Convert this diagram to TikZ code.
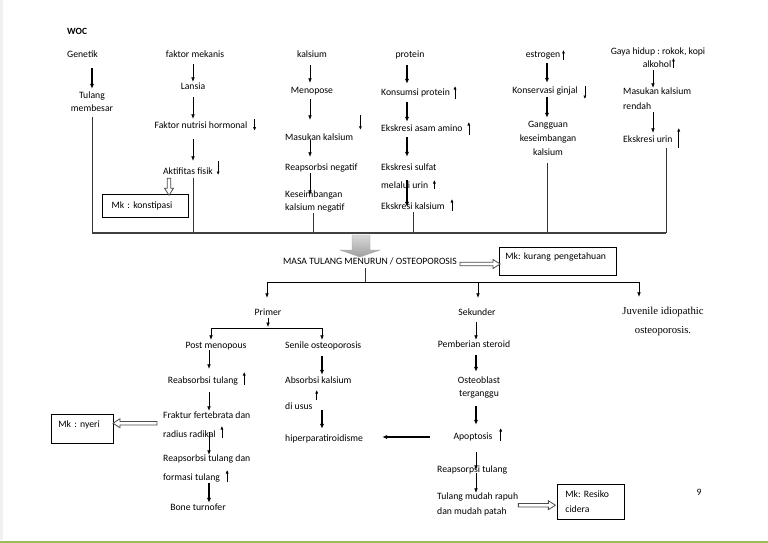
\documentclass[tikz,border=0pt]{standalone}
\usepackage{fontspec}
\setmainfont{Carlito}
\newfontfamily\serifjuv{Liberation Serif}
\usetikzlibrary{arrows.meta,calc}
\definecolor{slidegreen}{RGB}{155,187,89}
% hollow block arrows: start coordinate, length
\newcommand\hollowR[2]{\draw[hol] (#1) ++(0,-1.75) -- ++(#2-7,0) -- ++(0,-2.75) -- ++(7,4.5) -- ++(-7,4.5) -- ++(0,-2.75) -- ++(-#2+7,0) -- cycle;}
\newcommand\hollowL[2]{\draw[hol] (#1) ++(0,-1.75) -- ++(-#2+7,0) -- ++(0,-2.75) -- ++(-7,4.5) -- ++(7,4.5) -- ++(0,-2.75) -- ++(#2-7,0) -- cycle;}
\newcommand\hollowD[2]{\draw[hol] (#1) ++(-1.75,0) -- ++(0,#2-7) -- ++(-2.75,0) -- ++(4.5,7) -- ++(4.5,-7) -- ++(-2.75,0) -- ++(0,-#2+7) -- cycle;}
\begin{document}
\frenchspacing
\begin{tikzpicture}[x=1pt,y=-1pt,
 txt/.style={font=\fontsize{9.7}{11.6}\selectfont, inner sep=0pt, text height=7pt, text depth=2pt},
 lt/.style={txt, anchor=west},
 arr/.style={line width=0.6pt, -{Latex[length=4.5pt,width=3.6pt]}},
 arrk/.style={line width=1.1pt, -{Latex[length=5pt,width=4.2pt]}},
 ind/.style={line width=0.6pt, -{Latex[length=3.5pt,width=3pt]}},
 wire/.style={line width=0.7pt, black!80},
 bus/.style={line width=1.2pt, black!75},
 hol/.style={line width=0.8pt, draw=black!70, fill=white, line join=miter},
 box/.style={draw, line width=0.8pt, font=\frenchspacing\fontsize{9.7}{11.6}\selectfont, align=left, inner ysep=0pt, anchor=north west}
]
\useasboundingbox (0,0) rectangle (768,543);
\fill[white] (0,0) rectangle (768,543);
\fill[black!6] (0,0) rectangle (3,540);
\draw[line width=2pt, slidegreen] (0,541.5) -- (768,541.5);

% column coordinates
\coordinate (c3) at (310,0); \coordinate (c4) at (407,0); \coordinate (c5) at (547,0);
\coordinate (c6) at (653,0); \coordinate (l3) at (313,0); \coordinate (l4) at (413,0);
\coordinate (l6) at (666,0); \coordinate (m) at (365,0);
\coordinate (p1) at (209,0); \coordinate (p2) at (322,0); \coordinate (s1) at (476,0);
\coordinate (busL) at (92,233); \coordinate (busR) at (666,233);
\coordinate (b2L) at (267,282); \coordinate (b2S) at (478,282); \coordinate (b2R) at (639,282);
\coordinate (jL) at (211,328); \coordinate (jR) at (322,328);

\node[lt, font=\bfseries\fontsize{9.5}{11}\selectfont] (woc) at (67,32) {WOC};

% column 1
\node[lt] (gen) at (67,55) {Genetik};
\node[txt] (tul1) at (92,96) {Tulang};
\node[txt] (tul2) at (92,109) {membesar};
\draw[arrk, shorten <=8.5pt, shorten >=2.5pt] (tul1.north |- gen.south) -- (tul1.north);
\draw[wire, shorten <=3.5pt] (tul2.south) -- (tul2.south |- busL);

% column 2
\node[txt] (fm) at (195,55) {faktor mekanis};
\node[txt] (lan) at (193,87) {Lansia};
\draw[arr, shorten <=4.5pt, shorten >=0.5pt] (lan.north |- fm.south) -- (lan.north);
\node[txt] (fnh) at (201,126) {Faktor nutrisi hormonal};
\draw[arr, shorten <=5.5pt, shorten >=2.5pt] (lan.south) -- (lan.south |- fnh.north);
\draw[ind] ([xshift=7pt,yshift=2pt]fnh.north east) -- ([xshift=7pt]fnh.south east);
\node[txt] (af) at (188,172) {Aktifitas fisik};
\draw[arr, shorten <=8.5pt, shorten >=6.5pt] (lan.south |- fnh.south) -- (lan.south |- af.north);
\draw[ind] ([xshift=5pt,yshift=11pt]af.east) -- ([xshift=5pt,yshift=-3pt]af.east);
\node[box, line width=1pt, text width=68pt, inner xsep=9pt, text height=13.5pt, text depth=9.5pt] (kon) at (102,194) {Mk : konstipasi};
\coordinate (hx) at ([xshift=-19pt,yshift=-1.5pt]af.south);
\hollowD{hx}{17}
\draw[wire, shorten <=1pt] (lan.south |- af.south) -- (lan.south |- busL);

% column 3
\node[txt] (kal) at (312,55) {kalsium};
\node[txt] (men) at (312,91) {Menopose};
\draw[arr, shorten <=5.5pt, shorten >=3.5pt] (c3 |- kal.south) -- (c3 |- men.north);
\node[lt] (mk) at (285,138) {Masukan kalsium};
\draw[arr, shorten <=3.5pt, shorten >=13.5pt] (c3 |- men.south) -- (c3 |- mk.north);
\draw[ind] ([xshift=7pt,yshift=18.5pt]mk.north east) -- ([xshift=7pt,yshift=3.5pt]mk.north east);
\node[lt] (rn) at (285,168) {Reapsorbsi negatif};
\draw[arr, shorten <=-2.5pt, shorten >=6.5pt] (c3 |- mk.south) -- (c3 |- rn.north);
\node[lt] (kes1) at (285,195) {Keseimbangan};
\node[lt] (kes2) at (285,208) {kalsium negatif};
\draw[arr, shorten <=0.5pt, shorten >=-4.5pt] (c3 |- rn.south) -- (c3 |- kes1.north);
\draw[wire, shorten <=0.5pt] (l3 |- kes2.south) -- (l3 |- busL);

% column 4
\node[txt] (pro) at (410,55) {protein};
\node[lt] (kp) at (381,93) {Konsumsi protein};
\draw[arrk, shorten <=5.5pt, shorten >=4.5pt] (c4 |- pro.south) -- (c4 |- kp.north);
\draw[ind] ([xshift=5pt,yshift=-6pt]kp.east) -- ([xshift=5pt,yshift=7pt]kp.east);
\node[lt] (eaa) at (381,129) {Ekskresi asam amino};
\draw[arrk, shorten <=4.5pt, shorten >=2.5pt] (c4 |- kp.south) -- (c4 |- eaa.north);
\draw[ind] ([xshift=6pt,yshift=-6pt]eaa.east) -- ([xshift=6pt,yshift=7pt]eaa.east);
\node[lt] (es1) at (381,168) {Ekskresi sulfat};
\node[lt] (es2) at (381,186) {melalui urin};
\draw[arrk, shorten <=3.5pt, shorten >=6.5pt] (c4 |- eaa.south) -- (c4 |- es1.north);
\draw[ind] ([xshift=6pt,yshift=-3pt]es2.east) -- ([xshift=6pt,yshift=6pt]es2.east);
\node[lt] (ek) at (381,207) {Ekskresi kalsium};
\draw[arrk, shorten <=7.5pt, shorten >=-4.5pt] (c4 |- es1.south) -- (c4 |- ek.north);
\draw[ind] ([xshift=7pt,yshift=-4pt]ek.east) -- ([xshift=7pt,yshift=8pt]ek.east);
\draw[wire, shorten <=0.5pt] (l4 |- ek.south) -- (l4 |- busL);

% column 5
\node[txt] (est) at (543,55) {estrogen};
\draw[ind] ([xshift=3pt,yshift=-5pt]est.east) -- ([xshift=3pt,yshift=5pt]est.east);
\node[txt] (kg) at (545,91) {Konservasi ginjal};
\draw[arrk, shorten <=3.5pt, shorten >=3.5pt] (c5 |- est.south) -- (c5 |- kg.north);
\draw[ind] ([xshift=7pt,yshift=5pt]kg.east) -- ([xshift=7pt,yshift=-8pt]kg.east);
\node[txt] (gg1) at (548,125) {Gangguan};
\node[txt] (gg2) at (548,139) {keseimbangan};
\node[txt] (gg3) at (548,153) {kalsium};
\draw[arrk, shorten <=1.5pt, shorten >=2.5pt] (c5 |- kg.south) -- (c5 |- gg1.north);
\draw[wire, shorten <=5.5pt] (c5 |- gg3.south) -- (c5 |- busL);

% column 6
\node[txt] (gh1) at (658,52) {Gaya hidup : rokok, kopi};
\node[txt] (gh2) at (657,65) {alkohol};
\draw[ind] ([xshift=2pt,yshift=-3pt]gh2.east) -- ([xshift=2pt,yshift=7pt]gh2.east);
\node[lt] (mr1) at (623,92) {Masukan kalsium};
\node[lt] (mr2) at (623,107) {rendah};
\draw[arr, shorten <=0.5pt, shorten >=-0.5pt] (c6 |- gh2.south) -- (c6 |- mr1.north);
\node[lt] (eu) at (623,140) {Ekskresi urin};
\draw[arr, shorten <=0.5pt, shorten >=2.5pt] (c6 |- mr2.south) -- (c6 |- eu.north);
\draw[ind] ([xshift=6pt,yshift=-8pt]eu.east) -- ([xshift=6pt,yshift=12pt]eu.east);
\draw[wire, shorten <=3.5pt] (l6 |- eu.south) -- (l6 |- busR);

% top bus
\draw[bus] (busL) -- (busR);

% block arrow
\shade[top color=gray!30, bottom color=gray!75, draw=gray!70, line width=0.4pt]
 (352,235) -- (370,235) -- (370,250) -- (380,250) -- (360,257) -- (340,250) -- (352,250) -- cycle;

\node[txt] (masa) at (370,262) {MASA TULANG MENURUN / OSTEOPOROSIS};
\node[box, text width=105pt, inner xsep=6pt, text height=12.5pt, text depth=15.5pt] (kur) at (499,247) {Mk: kurang pengetahuan};
\coordinate (ha) at ([xshift=3pt,yshift=-2pt]masa.east);
\hollowR{ha}{40}

% second bus
\draw[wire, shorten <=1.5pt] (m |- masa.south) -- (m |- b2L);
\draw[wire, line width=0.9pt, black] (b2L) -- (b2R);
\node[txt] (pri) at (268,313) {Primer};
\node[txt] (sek) at (477,313) {Sekunder};
\node[font=\serifjuv\fontsize{10.7}{19}\selectfont, align=center, inner sep=0pt] (juv) at (663,321.4) {Juvenile idiopathic\\osteoporosis.};
\draw[arr, shorten >=10.5pt] (b2L) -- (b2L |- pri.north);
\draw[arr, shorten >=10.5pt] (b2S) -- (b2S |- sek.north);
\draw[arr, shorten >=10pt] (b2R) -- (b2R |- juv.north);

% primer branch
\draw[arr, shorten <=0.5pt, shorten >=1pt] (pri.south) -- (pri.south |- jL);
\draw[wire, black] (jL) -- (jR);
\node[txt] (pm) at (216,346) {Post menopous};
\node[lt] (so) at (285,346) {Senile osteoporosis};
\draw[arr, shorten >=1.5pt] (jL) -- (jL |- pm.north);
\draw[arr, shorten >=1.5pt] (jR) -- (jR |- so.north);

% post menopous column
\node[txt] (rt) at (203,381) {Reabsorbsi tulang};
\draw[arr, shorten <=-0.5pt, shorten >=7.5pt] (p1 |- pm.south) -- (p1 |- rt.north);
\draw[ind] ([xshift=6pt,yshift=-4pt]rt.east) -- ([xshift=6pt,yshift=9pt]rt.east);
\node[lt] (ff1) at (163,416) {Fraktur fertebrata dan};
\node[lt] (ff2) at (163,435) {radius radikal};
\draw[arr, shorten <=6.5pt, shorten >=0.5pt] (p1 |- rt.south) -- (p1 |- ff1.north);
\draw[ind] ([xshift=6pt,yshift=-3pt]ff2.east) -- ([xshift=6pt,yshift=9pt]ff2.east);
\node[lt] (rd1) at (163,459) {Reapsorbsi tulang dan};
\node[lt] (rd2) at (163,478) {formasi tulang};
\draw[arr, shorten <=11.5pt, shorten >=-0.5pt] (p1 |- ff1.south) -- (p1 |- rd1.north);
\draw[ind] ([xshift=7pt,yshift=-4pt]rd2.east) -- ([xshift=7pt,yshift=8pt]rd2.east);
\node[txt] (bt) at (198,508) {Bone turnofer};
\draw[arrk, shorten <=0.5pt, shorten >=0.5pt] (p1 |- rd2.south) -- (p1 |- bt.north);
\node[box, text width=48pt, inner xsep=7pt, text height=13.5pt, text depth=15.5pt] (ny) at (51,414) {Mk : nyeri};
\coordinate (nyA) at ($(ny.north east)!0.31!(ny.south east)$);
\coordinate (ffA) at ([xshift=-6pt]ff1.west |- nyA);
\hollowL{ffA}{44}

% senile column
\node[lt] (ak) at (285,381) {Absorbsi kalsium};
\draw[arrk, shorten <=5.5pt, shorten >=1.5pt] (p2 |- so.south) -- (p2 |- ak.north);
\node[lt] (du) at (285,407) {di usus};
\draw[ind] ([xshift=4pt,yshift=7pt]du.east) -- ([xshift=4pt,yshift=17pt]du.east);
\node[lt] (hp) at (285,439) {hiperparatiroidisme};
\draw[arrk, shorten <=-1.5pt, shorten >=5.5pt] (p2 |- du.south) -- (p2 |- hp.north);

% sekunder column
\node[txt] (ps) at (474,345) {Pemberian steroid};
\draw[arr, shorten <=4.5pt, shorten >=0.5pt] (s1 |- sek.south) -- (s1 |- ps.north);
\node[txt] (ob1) at (479,381) {Osteoblast};
\node[txt] (ob2) at (479,394) {terganggu};
\draw[arrk, shorten <=5.5pt, shorten >=4.5pt] (s1 |- ps.south) -- (s1 |- ob1.north);
\node[txt] (ap) at (473,437) {Apoptosis};
\draw[arrk, shorten <=7.5pt, shorten >=7.5pt] (s1 |- ob2.south) -- (s1 |- ap.north);
\draw[ind] ([xshift=8pt,yshift=-4pt]ap.east) -- ([xshift=8pt,yshift=9pt]ap.east);
\draw[arrk, shorten <=23.5pt, shorten >=19pt] (ap.west) -- (hp.east |- ap.west);
\node[lt] (rts) at (437,470) {Reapsorpsi tulang};
\draw[arr, shorten <=10.5pt, shorten >=-4.5pt] (s1 |- ap.south) -- (s1 |- rts.north);
\node[lt] (tm1) at (437,497) {Tulang mudah rapuh};
\node[lt] (tm2) at (437,512) {dan mudah patah};
\draw[arr, shorten <=-1.5pt, shorten >=-0.5pt] (s1 |- rts.south) -- (s1 |- tm1.north);
\node[box, text width=51pt, inner xsep=8pt, inner ysep=6pt, minimum height=35pt, font=\frenchspacing\fontsize{9.7}{15}\selectfont] (res) at (557,484) {Mk: Resiko\\cidera};
\coordinate (tmA) at ([yshift=-3.5pt]tm1.south east);
\hollowR{tmA}{37}

\node[txt] (pg) at (699,493) {9};
\end{tikzpicture}
\end{document}
